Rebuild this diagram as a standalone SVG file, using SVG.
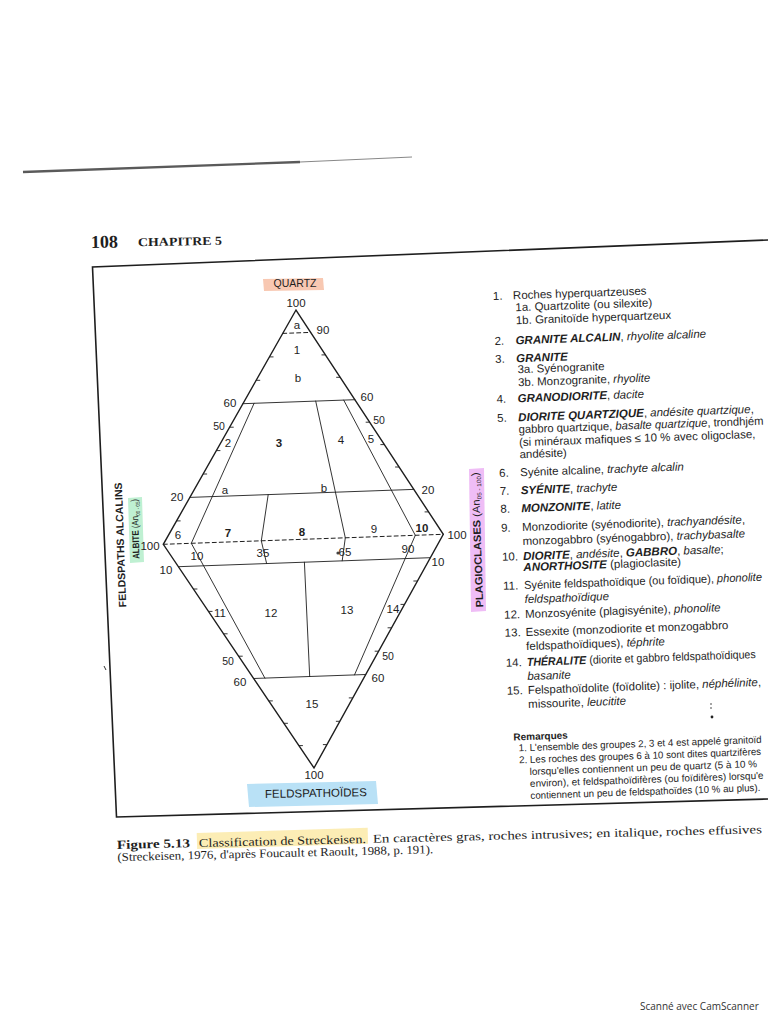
<svg xmlns="http://www.w3.org/2000/svg" width="768" height="1024" viewBox="0 0 768 1024">
<style>
.ln{stroke:#1e1e1e;fill:none;stroke-linecap:round}
.edge{stroke-width:1.4}
.in{stroke-width:0.9}
.dash{stroke-width:1;stroke-dasharray:4 3}
.tk{stroke:#1e1e1e;stroke-width:0.9}
.t{font-family:"Liberation Sans",Arial,sans-serif;font-size:11.5px;fill:#1e1e1e}
.c{text-anchor:middle}
.b{font-weight:bold}
.bi{font-weight:bold;font-style:italic}
.i{font-style:italic}
.s{font-family:"Liberation Serif","Times New Roman",serif;fill:#1e1e1e}
.rm{font-size:10px}
</style>
<rect width="768" height="1024" fill="#ffffff"/>

<g id="scan-artifacts">
<path d="M23 172 L300 162" stroke="#5a5a5a" stroke-width="2.4" fill="none"/>
<path d="M300 162 L412 157" stroke="#888" stroke-width="1.1" fill="none"/>
<path d="M104 666 L106 670" stroke="#333" stroke-width="1"/>
<circle cx="338" cy="553" r="1.6" fill="#444"/>
<circle cx="711" cy="704" r="0.8" fill="#333"/>
<circle cx="711" cy="708" r="0.8" fill="#333"/>
<circle cx="712" cy="717" r="1.4" fill="#222"/>
</g>

<g id="header" transform="rotate(-1 91 248)">
<text class="s" x="91" y="248" font-size="18" font-weight="bold">108</text>
<text class="s" x="138" y="247" font-size="12" font-weight="bold" textLength="84" lengthAdjust="spacingAndGlyphs">CHAPITRE 5</text>
</g>

<g id="frame" class="ln">
<path d="M768 240 L92.5 267 L116.5 817 L768 799" stroke-width="1.6"/>
</g>

<g id="highlights">
<polygon points="263,279 323,278 324,290 264,291" fill="#f8c8b2"/>
<polygon points="247,784 376,781 378,804 249,807" fill="#b9e1f6"/>
<polygon points="128,498 142,497 144,562 130,563" fill="#bff0d2"/>
<polygon points="469,469 484,468 486,611 471,612" fill="#efbdf6"/>
</g>

<g id="diagram">
<g id="outline" class="ln edge">
<polygon points="296,310 163.3,544.3 314,768 443.3,534.3"/>
</g>
<g id="connectors">
<line class="ln dash" x1="282.7" y1="333.4" x2="310.7" y2="332.4"/>
<line class="ln in" x1="242.9" y1="403.7" x2="354.9" y2="399.7"/>
<line class="ln in" x1="189.8" y1="497.4" x2="413.8" y2="489.4"/>
<line class="ln dash" x1="163.3" y1="544.3" x2="443.3" y2="534.3"/>
<line class="ln in" x1="178.4" y1="566.7" x2="430.4" y2="557.7"/>
<line class="ln in" x1="253.7" y1="678.5" x2="365.7" y2="674.5"/>
<polyline class="ln in" points="254.1,403.3 191.3,543.3 264.9,678.1"/>
<polyline class="ln in" points="343.7,400.1 415.3,535.3 354.5,674.9"/>
<polyline class="ln in" points="315.7,401.1 345.3,537.8 342.2,560.8"/>
<polyline class="ln in" points="268.2,494.6 261.3,540.8 266.6,563.5"/>
<line class="ln in" x1="304.4" y1="562.2" x2="309.7" y2="676.5"/>
</g>
<g id="ticks" class="tk">
<path d="M269.5 356.9h4M256.2 380.3h4M229.7 427.2h4M216.4 450.6h4M203.1 474h4M176.6 520.9h4"/>
<path d="M325.5 354.9h-4M340.2 377.3h-4M369.7 422.2h-4M384.4 444.6h-4M399.1 467h-4M428.6 511.9h-4"/>
<path d="M193.4 589h4M208.5 611.4h4M223.6 633.8h4M238.7 656.2h4M268.8 700.9h4M283.9 723.3h4M298.9 745.6h4"/>
<path d="M417.4 581h-4M404.5 604.4h-4M391.6 627.8h-4M378.7 651.2h-4M352.8 697.9h-4M339.9 721.3h-4M326.9 744.6h-4"/>
</g>
<g id="labels" class="t c">
<text x="295" y="287" font-size="10.5">QUARTZ</text>
<text x="296" y="307">100</text>
<text x="297" y="329">a</text>
<text x="323" y="334">90</text>
<text x="297" y="354">1</text>
<text x="298" y="382">b</text>
<text x="230" y="407">60</text>
<text x="367" y="401">60</text>
<text x="219" y="430" font-size="10.5">50</text>
<text x="379" y="424" font-size="10.5">50</text>
<text x="228" y="447">2</text>
<text x="279" y="447" class="b">3</text>
<text x="341" y="444">4</text>
<text x="371" y="443">5</text>
<text x="177" y="501">20</text>
<text x="428" y="494">20</text>
<text x="225" y="494">a</text>
<text x="324" y="492">b</text>
<text x="178" y="539">6</text>
<text x="228" y="537" class="b">7</text>
<text x="302" y="536" class="b">8</text>
<text x="374" y="533">9</text>
<text x="422" y="532" class="b">10</text>
<text x="150" y="550">100</text>
<text x="457" y="539">100</text>
<text x="197" y="560">10</text>
<text x="263" y="557">35</text>
<text x="345" y="556">65</text>
<text x="408" y="553">90</text>
<text x="166" y="574">10</text>
<text x="438" y="566">10</text>
<text x="220" y="617">11</text>
<text x="271" y="617">12</text>
<text x="347" y="614">13</text>
<text x="393" y="613">14</text>
<text x="228" y="665" font-size="10.5">50</text>
<text x="388" y="660" font-size="10.5">50</text>
<text x="240" y="686">60</text>
<text x="378" y="682">60</text>
<text x="312" y="708">15</text>
<text x="314" y="779">100</text>
<text x="316" y="797" font-size="11.5" transform="rotate(-1 316 797)">FELDSPATHOÏDES</text>
</g>
<g id="axis-labels" class="t c">
<text transform="translate(120 545) rotate(-92)" y="4" class="b" font-size="10.5" textLength="125" lengthAdjust="spacingAndGlyphs">FELDSPATHS ALCALINS</text>
<text transform="translate(135 529) rotate(-92)" y="3.5" font-size="9.5" textLength="60" lengthAdjust="spacingAndGlyphs"><tspan class="b">ALBITE</tspan> (An<tspan font-size="5.5" dy="2">00 - 05</tspan><tspan dy="-2">)</tspan></text>
<text transform="translate(477 540) rotate(-92)" y="4" font-size="10.5" textLength="135" lengthAdjust="spacingAndGlyphs"><tspan class="b">PLAGIOCLASES</tspan> (An<tspan font-size="6" dy="2">05 - 100</tspan><tspan dy="-2">)</tspan></text>
</g>
</g>

<g id="legend" class="t" transform="rotate(-2 493 297)">
<text x="493" y="300">1.</text><text x="513" y="300">Roches hyperquartzeuses</text>
<text x="515" y="312">1a. Quartzolite (ou silexite)</text>
<text x="515" y="325">1b. Granitoïde hyperquartzeux</text>
<text x="493" y="345">2.</text><text x="514" y="345"><tspan class="bi">GRANITE ALCALIN</tspan>, <tspan class="i">rhyolite alcaline</tspan></text>
<text x="493" y="363">3.</text><text x="514" y="363" class="bi">GRANITE</text>
<text x="515" y="374">3a. Syénogranite</text>
<text x="515" y="387">3b. Monzogranite, <tspan class="i">rhyolite</tspan></text>
<text x="493" y="403">4.</text><text x="514" y="403"><tspan class="bi">GRANODIORITE</tspan>, <tspan class="i">dacite</tspan></text>
<text x="493" y="422">5.</text><text x="514" y="422"><tspan class="bi">DIORITE QUARTZIQUE</tspan>, <tspan class="i">andésite quartzique</tspan>,</text>
<text x="514" y="434" textLength="245" lengthAdjust="spacingAndGlyphs">gabbro quartzique, <tspan class="i">basalte quartzique</tspan>, trondhjém</text>
<text x="514" y="447">(si minéraux mafiques ≤ 10 % avec oligoclase,</text>
<text x="514" y="459">andésite)</text>
<text x="493" y="477">6.</text><text x="514" y="477">Syénite alcaline, <tspan class="i">trachyte alcalin</tspan></text>
<text x="493" y="495">7.</text><text x="514" y="495"><tspan class="bi">SYÉNITE</tspan>, <tspan class="i">trachyte</tspan></text>
<text x="493" y="513">8.</text><text x="514" y="513"><tspan class="bi">MONZONITE</tspan>, <tspan class="i">latite</tspan></text>
<text x="493" y="532">9.</text><text x="514" y="532">Monzodiorite (syénodiorite), <tspan class="i">trachyandésite</tspan>,</text>
<text x="514" y="546">monzogabbro (syénogabbro), <tspan class="i">trachybasalte</tspan></text>
<text x="493" y="561">10.</text><text x="514" y="561"><tspan class="bi">DIORITE</tspan>, <tspan class="i">andésite</tspan>, <tspan class="bi">GABBRO</tspan>, <tspan class="i">basalte</tspan>;</text>
<text x="514" y="572"><tspan class="bi">ANORTHOSITE</tspan> (plagioclasite)</text>
<text x="493" y="590">11.</text><text x="514" y="590" textLength="238" lengthAdjust="spacingAndGlyphs">Syénite feldspathoïdique (ou foïdique), <tspan class="i">phonolite</tspan></text>
<text x="514" y="604" class="i">feldspathoïdique</text>
<text x="493" y="619">12.</text><text x="514" y="619">Monzosyénite (plagisyénite), <tspan class="i">phonolite</tspan></text>
<text x="493" y="637">13.</text><text x="514" y="637">Essexite (monzodiorite et monzogabbro</text>
<text x="514" y="651">feldspathoïdiques), <tspan class="i">téphrite</tspan></text>
<text x="493" y="667">14.</text><text x="514" y="667" textLength="229" lengthAdjust="spacingAndGlyphs"><tspan class="bi">THÉRALITE</tspan> (diorite et gabbro feldspathoïdiques</text>
<text x="514" y="681" class="i">basanite</text>
<text x="493" y="695">15.</text><text x="514" y="695">Felspathoïdolite (foïdolite) : ijolite, <tspan class="i">néphélinite</tspan>,</text>
<text x="514" y="709">missourite, <tspan class="i">leucitite</tspan></text>
<text x="498" y="741" class="b rm">Remarques</text>
<text x="503" y="752" class="rm" textLength="243" lengthAdjust="spacingAndGlyphs">1. L'ensemble des groupes 2, 3 et 4 est appelé granitoïd</text>
<text x="503" y="764" class="rm" textLength="242" lengthAdjust="spacingAndGlyphs">2. Les roches des groupes 6 à 10 sont dites quartzifères</text>
<text x="513" y="776" class="rm">lorsqu'elles contiennent un peu de quartz (5 à 10 %</text>
<text x="513" y="788" class="rm">environ), et feldspathoïdifères (ou foïdifères) lorsqu'e</text>
<text x="513" y="800" class="rm" textLength="230" lengthAdjust="spacingAndGlyphs">contiennent un peu de feldspathoïdes (10 % au plus).</text>
</g>

<g id="caption" transform="rotate(-1.4 117 845)">
<polygon points="197,835 368,834 368,850 197,851" fill="#fbeaa8" opacity="0.85"/>
<text class="s" x="117" y="849" font-size="12.5" font-weight="bold" textLength="73" lengthAdjust="spacingAndGlyphs">Figure 5.13</text>
<text class="s" x="199" y="849" font-size="12" textLength="167" lengthAdjust="spacingAndGlyphs">Classification de Streckeisen.</text>
<text class="s" x="373" y="849" font-size="12" textLength="389" lengthAdjust="spacingAndGlyphs">En caractères gras, roches intrusives; en italique, roches effusives</text>
<text class="s" x="117" y="861" font-size="12" textLength="316" lengthAdjust="spacingAndGlyphs">(Streckeisen, 1976, d'après Foucault et Raoult, 1988, p. 191).</text>
</g>

<text x="640" y="1010" font-family="'Open Sans','Liberation Sans',sans-serif" font-size="10" fill="#333">Scanné avec CamScanner</text>
</svg>
